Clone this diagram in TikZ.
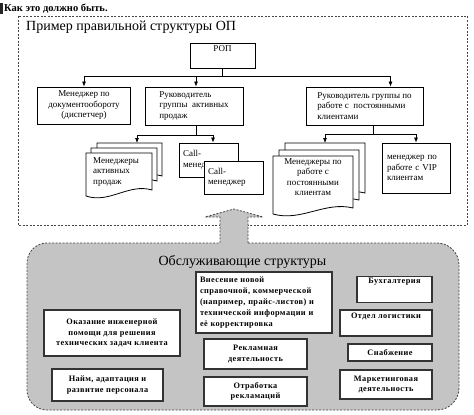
\documentclass[tikz,border=0pt]{standalone}
\usepackage{fontspec}
\setmainfont{Liberation Serif}
\newfontfamily\bsp[LetterSpace=5]{Liberation Serif}
\usetikzlibrary{arrows.meta,calc}
\definecolor{greyfill}{RGB}{196,196,196}
\definecolor{dashcol}{RGB}{70,70,70}
\newcommand\docshp[4]{%
  \pgfmathsetmacro\dw{#3-#1}%
  \draw[docline] (#1,-#2) -- (#3,-#2) -- (#3,-#4+6) .. controls (#3-0.35*\dw,-#4+13) and (#1+0.35*\dw,-#4-8) .. (#1,-#4) -- cycle;}
\begin{document}
\begin{tikzpicture}[x=1pt,y=1pt,
  box/.style={draw=black,line width=0.8pt,fill=white,inner sep=2pt,
    font=\fontsize{9}{10.5}\selectfont,align=center},
  docline/.style={draw=black,line width=0.8pt,fill=white},
  doctext/.style={inner sep=0pt,font=\fontsize{9}{10.5}\selectfont},
  bbox/.style={draw=black!80,line width=1.2pt,fill=white,inner sep=2pt,
    font=\bsp\bfseries\fontsize{8.3}{10.8}\selectfont,align=center},
  dashline/.style={draw=dashcol,line width=0.8pt,dash pattern=on 2pt off 1.5pt},
  arr/.style={draw=black,line width=0.7pt,-{Latex[length=5pt,width=4pt]}},
  conn/.style={draw=black,line width=0.7pt}]
\useasboundingbox (0,0) rectangle (474,-415);
% top title
\fill[black!85] (0,-3) rectangle (3,-14);
\node[anchor=west,inner sep=0pt,font=\bfseries\fontsize{10.5}{12}\selectfont] (title) at (4,-8.5) {Как это должно быть.};
% top dashed frame
\draw[dashline] (18,-16) rectangle (467,-225);
\node[anchor=west,inner sep=0pt,font=\fontsize{14}{16}\selectfont] (toptitle) at (26,-27.5) {Пример правильной структуры ОП};
% boxes
\node[box,minimum width=65pt,minimum height=25pt] (rop) at (222.5,-55.5) {РОП\\[3pt]};
\node[box,minimum width=93pt,minimum height=37pt] (disp) at (84,-105.5) {Менеджер по\\документообороту\\(диспетчер)};
\node[box,minimum width=98pt,minimum height=38pt,align=left] (act) at (194,-106) {Руководитель\\группы\ \ активных\\продаж};
\node[box,minimum width=117pt,minimum height=38pt,align=left] (perm) at (364.5,-106) {Руководитель группы по\\работе с\ \ постоянными\\клиентами};
% bus from ROP
\coordinate (bus) at (0,-76);
\draw[conn] (rop.south) -- (rop.south |- bus);
\draw[arr] (rop.south |- bus) -| (disp.north);
\draw[arr] (rop.south |- bus) -| ([xshift=2pt]act.north);
\draw[arr] (rop.south |- bus) -| ([xshift=26pt]perm.north);
% active sales documents
\docshp{97}{143}{162}{182}
\docshp{91}{148}{157}{187}
\docshp{86}{153}{152}{196}
\node[doctext,anchor=north west,align=left] (mact) at (93,-157) {Менеджеры\\активных\\продаж};
\coordinate (mactT) at (137,-143);
% call managers
\node[box,minimum width=59pt,minimum height=34pt,text width=51pt,align=left] (call1) at (208.5,-160) {Call-\\менеджер};
\node[box,minimum width=59pt,minimum height=33pt,text width=51pt,align=left] (call2) at (233.5,-177.5) {Call-\\менеджер};
\coordinate (actbus) at (0,-135);
\draw[conn] ([xshift=2pt]act.south) -- ([xshift=2pt]act.south |- actbus);
\draw[arr] ([xshift=2pt]act.south |- actbus) -| (mactT);
\draw[arr] ([xshift=2pt]act.south |- actbus) -| ([xshift=4.5pt]call1.north);
% permanent clients documents
\docshp{285}{143}{365}{199}
\docshp{279}{150}{359}{206}
\docshp{273}{156}{353}{214}
\node[doctext,anchor=north,align=center] (mperm) at (313,-158) {Менеджеры по\\работе с\\постоянными\\клиентам};
\coordinate (mpermT) at (325,-143);
\node[box,minimum width=68pt,minimum height=50pt,text width=58pt,align=left] (vip) at (416,-168) {менеджер по\\работе с VIP\\клиентам\\[8pt]};
\coordinate (permbus) at (0,-134);
\draw[conn] ([xshift=8.5pt]perm.south) -- ([xshift=8.5pt]perm.south |- permbus);
\draw[arr] ([xshift=8.5pt]perm.south |- permbus) -| (mpermT);
\draw[arr] ([xshift=8.5pt]perm.south |- permbus) -| (vip.north);
% bottom grey region with arrow
\path[fill=greyfill,dashline] (248,-243) -- (437,-243) arc[start angle=90,end angle=0,radius=22]
  -- (459,-388) arc[start angle=0,end angle=-90,radius=22]
  -- (47,-410) arc[start angle=270,end angle=180,radius=20]
  -- (27,-263) arc[start angle=180,end angle=90,radius=20]
  -- (220,-243) -- (220,-217) -- (205,-217) -- (234,-209) -- (263,-217) -- (248,-217) -- cycle;
\node[inner sep=0pt,font=\fontsize{14}{16}\selectfont] (bottitle) at (242.5,-262) {Обслуживающие структуры};
\node[bbox,minimum width=136pt,minimum height=61pt,text width=128pt,align=left] (vnes) at (264,-302.5) {Внесение новой\\справочной, коммерческой\\(например, прайс-листов) и\\технической информации и\\её корректировка};
\node[bbox,minimum width=136pt,minimum height=46pt] (okaz) at (112,-333) {Оказание инженерной\\помощи для решения\\технических задач клиента};
\node[bbox,minimum width=111pt,minimum height=32pt] (naim) at (107.5,-385) {Найм, адаптация и\\развитие персонала};
\node[bbox,minimum width=103pt,minimum height=30pt] (rekl) at (255.5,-354) {Рекламная\\деятельность};
\node[bbox,minimum width=103pt,minimum height=29pt] (otrab) at (255.5,-391.5) {Отработка\\рекламаций};
\node[bbox,minimum width=75pt,minimum height=25pt] (buh) at (394.5,-289.5) {Бухгалтерия\\[6pt]};
\node[bbox,minimum width=92pt,minimum height=26pt] (log) at (386,-323) {Отдел логистики\\[4pt]};
\node[bbox,minimum width=84pt,minimum height=17pt] (snab) at (390,-352.5) {Снабжение};
\node[bbox,minimum width=92pt,minimum height=29pt] (mark) at (386,-384.5) {Маркетинговая\\деятельность};
\end{tikzpicture}
\end{document}
